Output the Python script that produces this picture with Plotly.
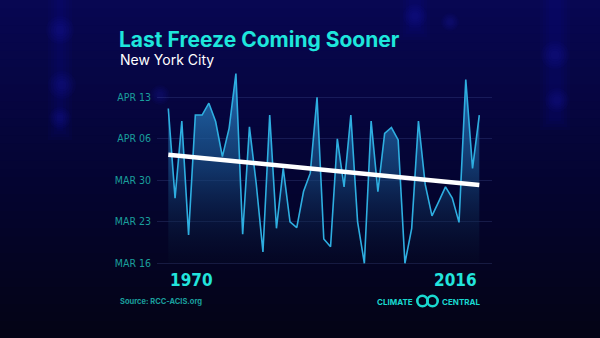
import plotly.graph_objects as go

# ---- data (days after March 1; Mar 16 = 15, Apr 13 = 43) ----
years = list(range(1970, 2017))
last_freeze = [41.1, 26.0, 39.0, 19.8, 40.0, 40.0, 42.0, 38.9, 33.0, 37.8,
               47.0, 19.9, 38.0, 28.5, 16.9, 40.0, 20.9, 31.0, 22.0, 21.0,
               27.1, 30.2, 43.0, 19.1, 17.8, 36.0, 27.9, 40.0, 22.0, 15.0,
               39.0, 27.1, 36.9, 37.9, 35.8, 15.0, 20.9, 39.0, 28.3, 23.0,
               25.4, 27.9, 26.0, 21.9, 46.0, 31.0, 40.0]
trend_years = [1970, 2016]
trend_values = [33.3, 28.2]
tick_vals = [15, 22, 29, 36, 43]
tick_text = ["MAR 16", "MAR 23", "MAR 30", "APR 06", "APR 13"]
baseline_value = 15

# ---- layout geometry (pixels) ----
W, H = 600, 338
L, R, T, B = 157, 492, 65, 265
PW, PH = R - L, B - T

NARROW = "DejaVu Sans Condensed, Liberation Sans Narrow, sans-serif"
SANS = "Inter, Lato, sans-serif"


def px(x):
    return (x - L) / PW


def py(y):
    return (B - y) / PH


fig = go.Figure()

fig.add_trace(go.Scatter(x=years, y=[baseline_value] * len(years), mode="lines",
                         line=dict(width=0, color="rgba(0,0,0,0)"),
                         hoverinfo="skip", showlegend=False))
fig.add_trace(go.Scatter(
    x=years, y=last_freeze, mode="lines", fill="tonexty",
    line=dict(color="#2eaee0", width=1.6),
    fillgradient=dict(type="vertical", start=15, stop=47,
                      colorscale=[[0, "rgba(6,16,40,0.2)"],
                                  [0.5, "rgba(24,80,135,0.65)"],
                                  [1, "rgba(40,125,195,0.9)"]]),
    showlegend=False))
fig.add_trace(go.Scatter(x=trend_years, y=trend_values, mode="lines",
                         line=dict(color="white", width=4.5),
                         showlegend=False))

shapes = []
top_c = (8, 7, 82)
mid_c = (5, 5, 52)
bot_c = (4, 4, 22)
n = 40
for i in range(n):
    f = i / (n - 1)
    if f < 0.5:
        g = f / 0.5
        c = tuple(int(top_c[k] + (mid_c[k] - top_c[k]) * g) for k in range(3))
    else:
        g = (f - 0.5) / 0.5
        c = tuple(int(mid_c[k] + (bot_c[k] - mid_c[k]) * g) for k in range(3))
    y0 = i * H / n
    y1 = (i + 1) * H / n + 1
    shapes.append(dict(type="rect", xref="paper", yref="paper", layer="below",
                       x0=px(0), x1=px(W), y0=py(y1), y1=py(y0),
                       fillcolor="rgb(%d,%d,%d)" % c, line=dict(width=0)))

# soft vertical streaks and bokeh blobs
streaks = [(48, 72, 0, 140), (540, 570, 0, 130), (400, 430, 0, 40)]
for (sx0, sx1, sy0, sy1) in streaks:
    for k in range(4):
        d = k * 3
        shapes.append(dict(type="rect", xref="paper", yref="paper", layer="below",
                           x0=px(sx0 + d), x1=px(sx1 - d), y0=py(sy1 - d), y1=py(sy0),
                           fillcolor="rgba(25,25,170,0.05)", line=dict(width=0)))
blobs = [(60, 30, 14), (62, 85, 14), (60, 118, 11), (555, 55, 14), (557, 100, 12),
         (415, 16, 12), (450, 22, 9), (160, 95, 10)]
for (bx, by, br) in blobs:
    for k in range(5):
        r = br * (1 - k * 0.17)
        shapes.append(dict(type="circle", xref="paper", yref="paper", layer="below",
                           x0=px(bx - r), x1=px(bx + r), y0=py(by + r), y1=py(by - r),
                           fillcolor="rgba(30,30,200,0.05)", line=dict(width=0)))

# logo rings
for cx in (422.5, 432.5):
    rr = 5.2
    shapes.append(dict(type="circle", xref="paper", yref="paper",
                       x0=px(cx - rr), x1=px(cx + rr), y0=py(301 + rr), y1=py(301 - rr),
                       line=dict(color="#19d8cf", width=2.6)))

annotations = [
    dict(text="<b>Last Freeze Coming Sooner</b>", xref="paper", yref="paper",
         x=px(117), y=py(39.5), xanchor="left", yanchor="middle", showarrow=False,
         font=dict(family=SANS, size=21, color="#1ee6dc")),
    dict(text="New York City", xref="paper", yref="paper",
         x=px(118), y=py(59.5), xanchor="left", yanchor="middle", showarrow=False,
         font=dict(family=SANS, size=14, color="white")),
    dict(text="<b>1970</b>", xref="x", yref="paper", x=years[0], y=py(280),
         xanchor="left", yanchor="middle", showarrow=False,
         font=dict(family=NARROW, size=17, color="#22e4dc")),
    dict(text="<b>2016</b>", xref="x", yref="paper", x=years[-1], y=py(280),
         xanchor="right", yanchor="middle", showarrow=False,
         font=dict(family=NARROW, size=17, color="#22e4dc")),
    dict(text="<b>Source: RCC-ACIS.org</b>", xref="paper", yref="paper",
         x=px(118), y=py(301.5), xanchor="left", yanchor="middle", showarrow=False,
         font=dict(family=SANS, size=7.5, color="#1a9f9c")),
    dict(text="<b>CLIMATE</b>", xref="paper", yref="paper",
         x=px(415), y=py(301.5), xanchor="right", yanchor="middle", showarrow=False,
         font=dict(family=SANS, size=8, color="#19d8cf")),
    dict(text="<b>CENTRAL</b>", xref="paper", yref="paper",
         x=px(440), y=py(301.5), xanchor="left", yanchor="middle", showarrow=False,
         font=dict(family=SANS, size=8, color="#19d8cf")),
]

x_lo = 1970 - (168.3 - L) / 6.76
x_hi = 2016 + (R - 479.3) / 6.76
y_lo = 15 - (B - 263.3) / 5.93
y_hi = 15 + (263.3 - T) / 5.93

fig.update_layout(
    width=W, height=H,
    margin=dict(l=L, r=W - R, t=T, b=H - B, pad=0),
    paper_bgcolor="#05052e", plot_bgcolor="rgba(0,0,0,0)",
    shapes=shapes, annotations=annotations, showlegend=False,
    xaxis=dict(range=[x_lo, x_hi], showgrid=False, zeroline=False,
               showticklabels=False, showline=False, ticks=""),
    yaxis=dict(range=[y_lo, y_hi], tickvals=tick_vals, ticktext=tick_text,
               showgrid=True, gridcolor="rgba(90,110,180,0.22)", gridwidth=1,
               zeroline=False, showline=False, ticks="", ticklabelstandoff=5,
               tickfont=dict(family=NARROW, size=10.5, color="#1a9f9c")),
)

fig.write_html("out.html")
